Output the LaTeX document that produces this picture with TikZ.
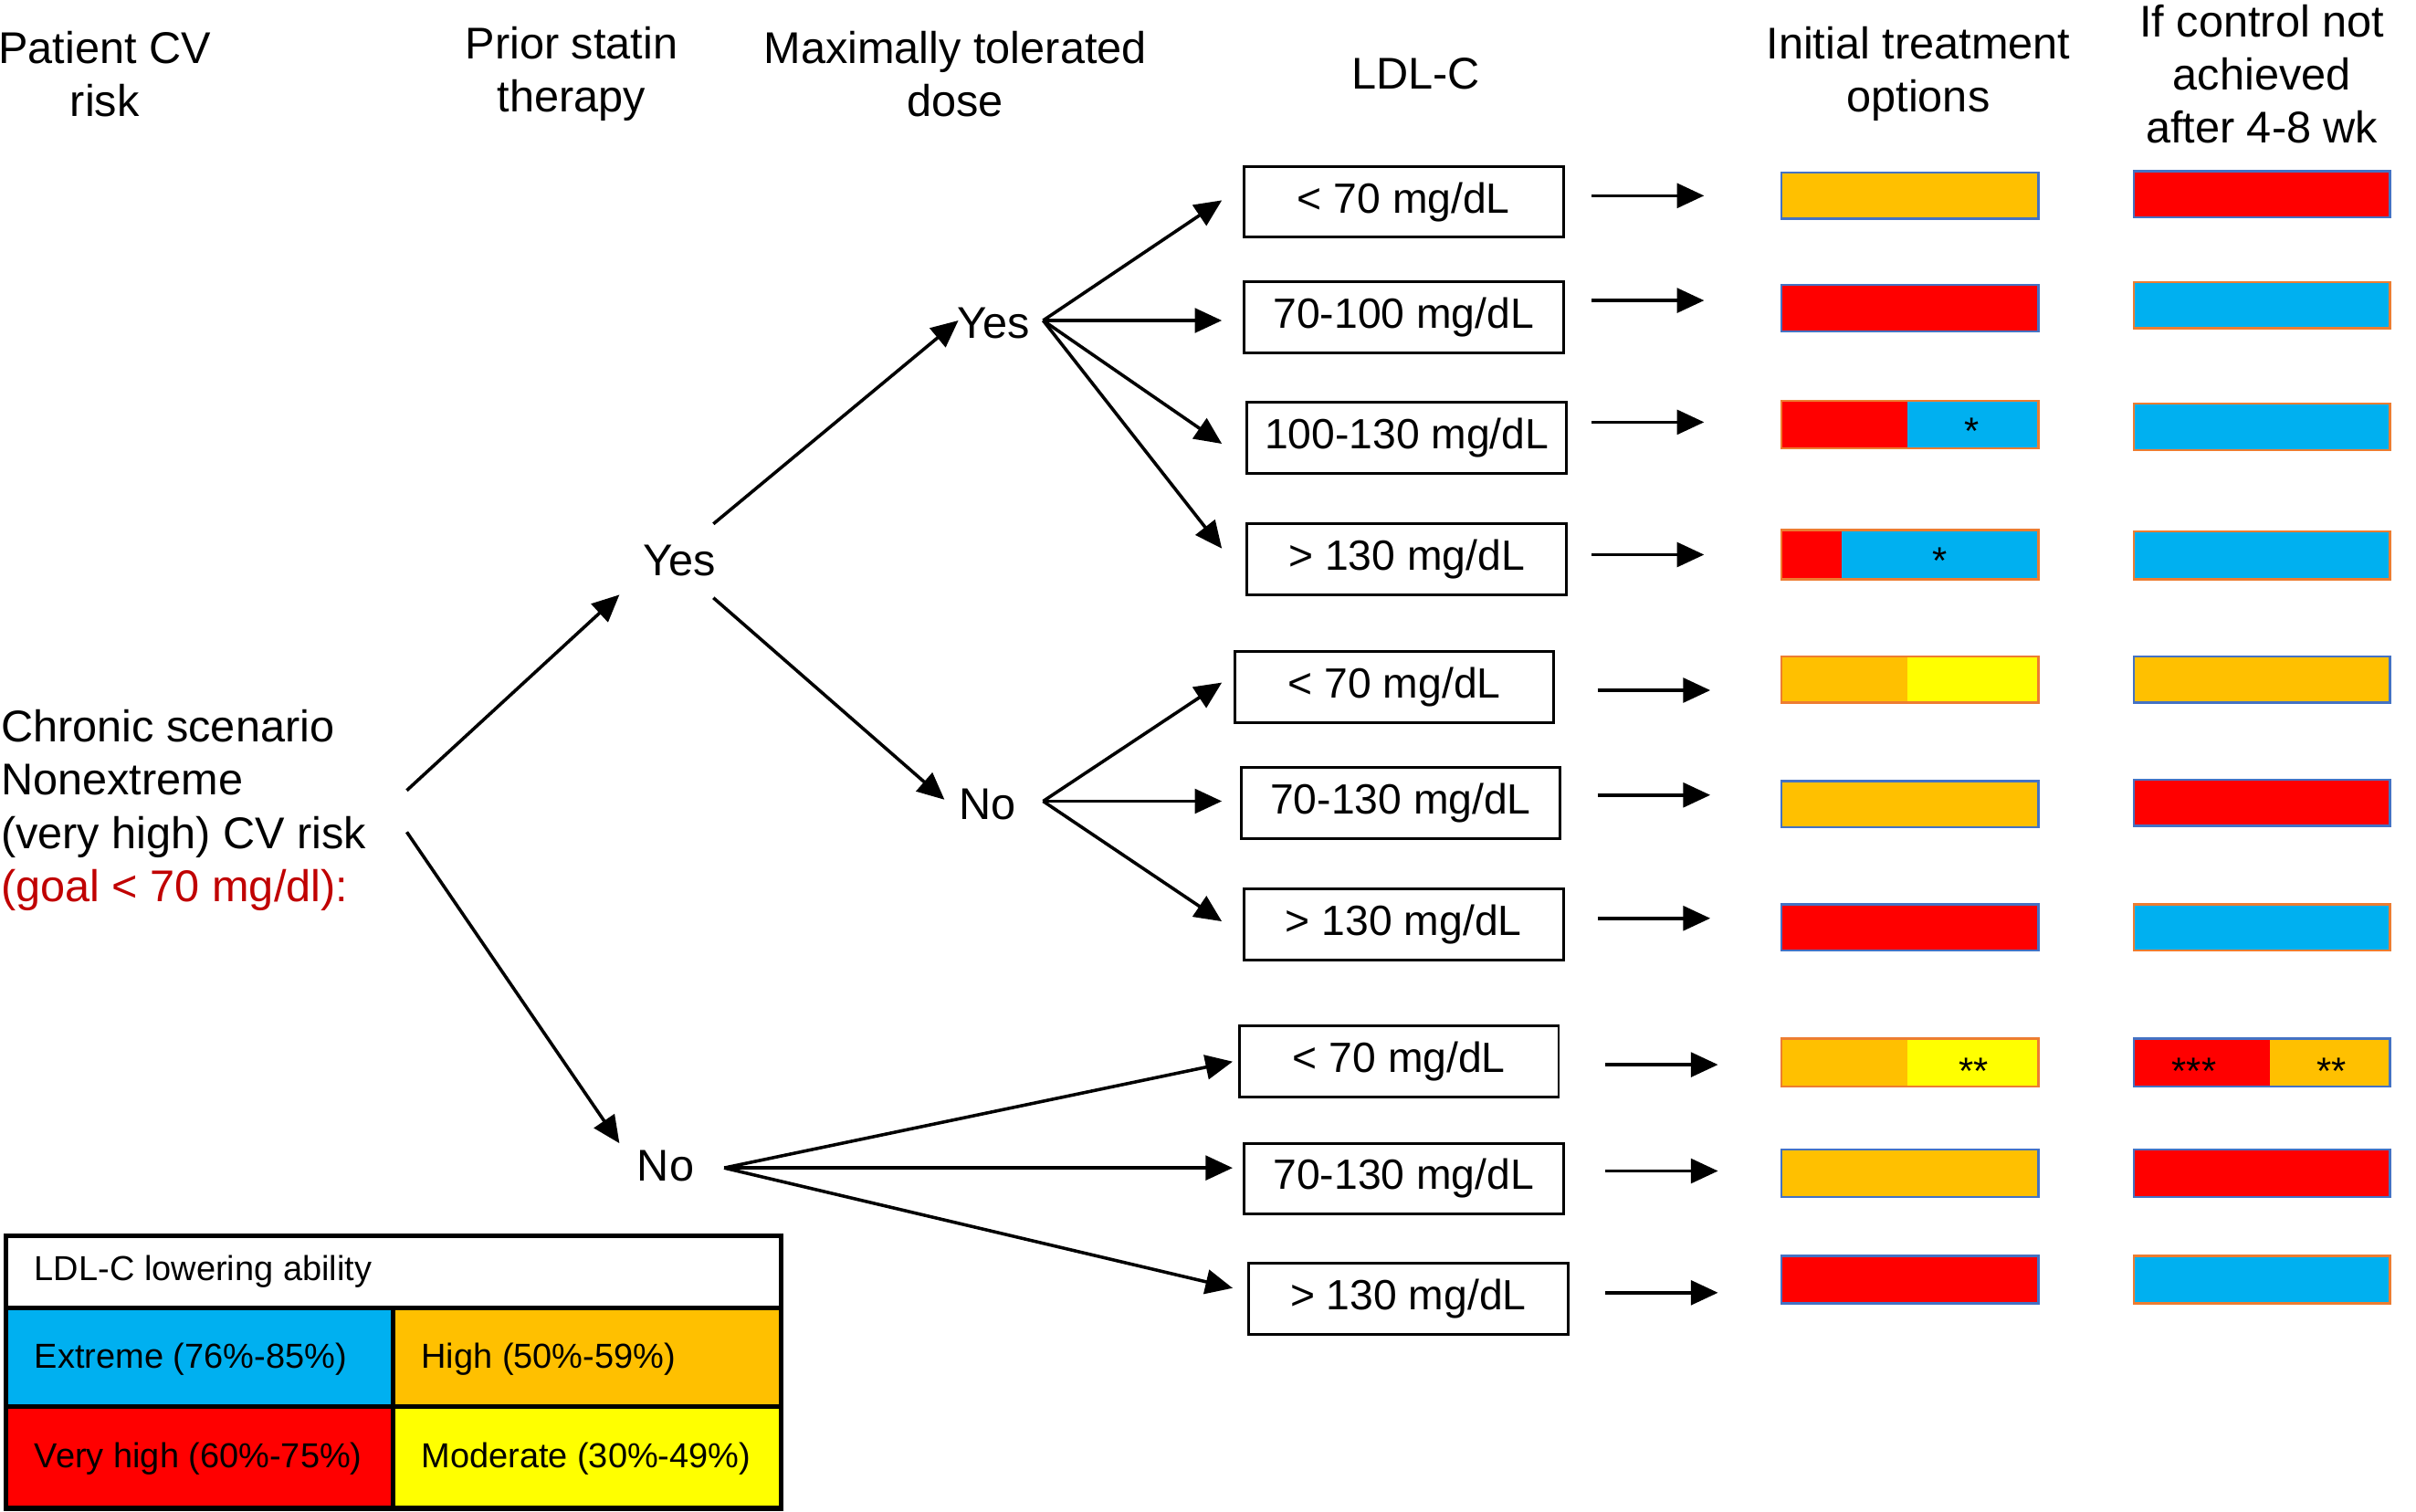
\documentclass[tikz,border=0pt]{standalone}
\usepackage{fontspec}
\setmainfont{Liberation Sans}
\usetikzlibrary{arrows.meta}
\definecolor{cor}{HTML}{FFC000}
\definecolor{cre}{HTML}{FF0000}
\definecolor{cbl}{HTML}{00B0F0}
\definecolor{cye}{HTML}{FFFF00}
\definecolor{bdb}{HTML}{4472C4}
\definecolor{bdo}{HTML}{ED7D31}
\definecolor{goal}{HTML}{C00000}
\begin{document}
\begin{tikzpicture}[x=0.01cm,y=-0.01cm,
  hdr/.style={align=center,font=\fontsize{8.2pt}{9.8pt}\selectfont},
  lbl/.style={font=\fontsize{8.2pt}{9.8pt}\selectfont},
  ldl/.style={draw,line width=0.5pt,minimum width=2.07cm,minimum height=0.46cm,inner sep=0pt,font=\fontsize{7.8pt}{9pt}\selectfont},
  arr/.style={-{Triangle[length=5pt,width=4.5pt]},line width=0.6pt},
  bar/.style={line width=0.4pt},
  lg/.style={font=\fontsize{6.4pt}{8pt}\selectfont,anchor=west},
  st/.style={font=\fontsize{7pt}{8pt}\selectfont}]
\useasboundingbox (0,0) rectangle (1568,981);
% headers
\node[hdr] (h1) at (68,48) {Patient CV\\risk};
\node[hdr] (h2) at (371,48) {Prior statin\\therapy};
\node[hdr] (h3) at (620,48) {Maximally tolerated\\dose};
\node[hdr] (h4) at (919,48) {LDL-C};
\node[hdr] (h5) at (1245,48) {Initial treatment\\options};
\node[hdr] (h6) at (1468,48) {If control not\\achieved\\after 4-8 wk};
% left text
\node[lbl,anchor=north west,align=left,inner sep=0pt] (root) at (0,460) {Chronic scenario\\Nonextreme\\(very high) CV risk\\\textcolor{goal}{(goal < 70 mg/dl):}};
\coordinate (r1) at (264,513); \coordinate (r2) at (264,540);
\node[lbl] (y1) at (441,364) {Yes};
\node[lbl] (n1) at (432,757) {No};
\node[lbl] (y2) at (645,210) {Yes};
\node[lbl] (n2) at (641,522) {No};
\draw[arr] (r1) -- (402,386);
\draw[arr] (r2) -- (402,742);
\draw[arr] (463,340) -- (622,208);
\draw[arr] (463,388) -- (613,519);
% LDL boxes
\foreach \n/\x/\y/\t in {b1/911/131/{< 70 mg/dL},b2/911/206/{70-100 mg/dL},b3/913/284/{100-130 mg/dL},b4/913/363/{> 130 mg/dL},b5/905/446/{< 70 mg/dL},b6/909/521/{70-130 mg/dL},b7/911/600/{> 130 mg/dL},b8/908/689/{< 70 mg/dL},b9/911/765/{70-130 mg/dL},b10/914/843/{> 130 mg/dL}}
  \node[ldl] (\n) at (\x,\y) {\t};
\coordinate (y2o) at (677,208); \coordinate (n2o) at (677,520); \coordinate (n1o) at (470,758);
\draw[arr] (y2o) -- (793,130);
\draw[arr] (y2o) -- (793,208);
\draw[arr] (y2o) -- (793,288);
\draw[arr] (y2o) -- (793,356);
\draw[arr] (n2o) -- (793,443);
\draw[arr] (n2o) -- (793,520);
\draw[arr] (n2o) -- (793,598);
\draw[arr] (n1o) -- (800,689);
\draw[arr] (n1o) -- (800,758);
\draw[arr] (n1o) -- (800,836);
% small arrows
\foreach \xa/\y in {1033/127,1033/195,1033/274,1033/360,1037/448,1037/516,1037/596,1042/691,1042/760,1042/839}
  \draw[arr] (\xa,\y) -- ++(73,0);
% initial bars
\newcommand{\hb}[5]{\fill[#5] (#1,#3) rectangle (#2,#4);}
\fill[cor] (1156,112) rectangle (1323,142); \draw[bar,bdb] (1156,112) rectangle (1323,142);
\fill[cre] (1156,185) rectangle (1323,215); \draw[bar,bdb] (1156,185) rectangle (1323,215);
\fill[cre] (1156,260) rectangle (1238,291); \fill[cbl] (1238,260) rectangle (1323,291); \draw[bar,bdo] (1156,260) rectangle (1323,291);
\node[st] at (1280,280) {*};
\fill[cre] (1156,344) rectangle (1195,376); \fill[cbl] (1195,344) rectangle (1323,376); \draw[bar,bdo] (1156,344) rectangle (1323,376);
\node[st] at (1259,364) {*};
\fill[cor] (1156,426) rectangle (1238,456); \fill[cye] (1238,426) rectangle (1323,456); \draw[bar,bdo] (1156,426) rectangle (1323,456);
\fill[cor] (1156,507) rectangle (1323,537); \draw[bar,bdb] (1156,507) rectangle (1323,537);
\fill[cre] (1156,587) rectangle (1323,617); \draw[bar,bdb] (1156,587) rectangle (1323,617);
\fill[cor] (1156,674) rectangle (1238,705); \fill[cye] (1238,674) rectangle (1323,705); \draw[bar,bdo] (1156,674) rectangle (1323,705);
\node[st] at (1281,695) {**};
\fill[cor] (1156,746) rectangle (1323,777); \draw[bar,bdb] (1156,746) rectangle (1323,777);
\fill[cre] (1156,815) rectangle (1323,846); \draw[bar,bdb] (1156,815) rectangle (1323,846);
% right bars
\fill[cre] (1385,111) rectangle (1551,141); \draw[bar,bdb] (1385,111) rectangle (1551,141);
\fill[cbl] (1385,183) rectangle (1551,213); \draw[bar,bdo] (1385,183) rectangle (1551,213);
\fill[cbl] (1385,262) rectangle (1551,292); \draw[bar,bdo] (1385,262) rectangle (1551,292);
\fill[cbl] (1385,345) rectangle (1551,376); \draw[bar,bdo] (1385,345) rectangle (1551,376);
\fill[cor] (1385,426) rectangle (1551,456); \draw[bar,bdb] (1385,426) rectangle (1551,456);
\fill[cre] (1385,506) rectangle (1551,536); \draw[bar,bdb] (1385,506) rectangle (1551,536);
\fill[cbl] (1385,587) rectangle (1551,617); \draw[bar,bdo] (1385,587) rectangle (1551,617);
\fill[cre] (1385,674) rectangle (1473,705); \fill[cor] (1473,674) rectangle (1551,705); \draw[bar,bdb] (1385,674) rectangle (1551,705);
\node[st] at (1424,695) {***}; \node[st] at (1513,695) {**};
\fill[cre] (1385,746) rectangle (1551,777); \draw[bar,bdb] (1385,746) rectangle (1551,777);
\fill[cbl] (1385,815) rectangle (1551,846); \draw[bar,bdo] (1385,815) rectangle (1551,846);
% legend
\fill[cbl] (4,849) rectangle (255,913);
\fill[cor] (255,849) rectangle (507,913);
\fill[cre] (4,913) rectangle (255,979);
\fill[cye] (255,913) rectangle (507,979);
\draw[line width=0.9pt] (4,802) rectangle (507,979);
\draw[line width=0.9pt] (4,849) -- (507,849) (4,913) -- (507,913) (255,849) -- (255,979);
\node[lg] (lt) at (10,825) {LDL-C lowering ability};
\node[lg] (l1) at (10,882) {Extreme (76\%-85\%)};
\node[lg] (l2) at (261,882) {High (50\%-59\%)};
\node[lg] (l3) at (10,947) {Very high (60\%-75\%)};
\node[lg] (l4) at (261,947) {Moderate (30\%-49\%)};
\end{tikzpicture}
\end{document}
